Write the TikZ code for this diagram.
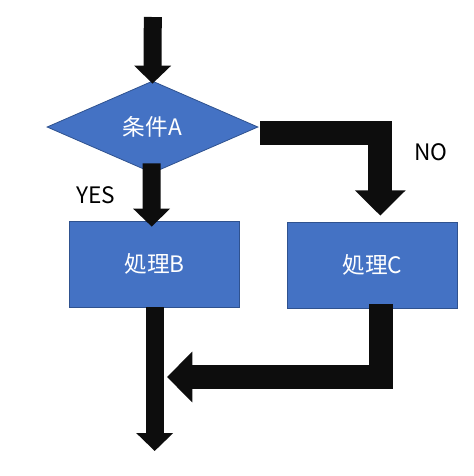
\documentclass[tikz,border=0pt]{standalone}
\usepackage{fontspec}
\setmainfont{Noto Sans CJK JP}
\usetikzlibrary{calc,shapes.geometric,arrows.meta}
\definecolor{boxblue}{HTML}{4472C4}
\definecolor{boxedge}{HTML}{2F528F}
\definecolor{flowblack}{HTML}{0D0D0D}
\newcommand{\Px}{0.75pt}
\tikzset{Box/.style={
    rectangle,
    inner sep=0pt,
    minimum width=170*\Px,
    minimum height=86*\Px,
    draw=boxedge,
    line width=0.6pt,
    fill=boxblue,
    text=white,
    align=center,
    }
}

\begin{document}
\begin{tikzpicture}[x=\Px, y=-\Px,
    font=\fontsize{17}{20}\selectfont,
    Decision/.style={diamond, inner sep=0pt,
    minimum width=211*\Px, minimum height=92*\Px,
    draw=boxedge, line width=0.6pt, fill=boxblue, text=white},
    Flow/.style={draw=flowblack, line width=13.5pt, line join=miter,
    -{Triangle[width=27pt, length=13.5pt]}},
    BigFlow/.style={draw=flowblack, line width=18pt, line join=miter,
    -{Triangle[width=37pt, length=19pt]}},
]
\useasboundingbox (0,0) rectangle (474,476);
% shapes
\node [Decision] (cond) at (152.5,127) {条件A};
\node [Box] (procB) at (154.7,264) {処理B};
\node [Box] (procC) at (372.3,265) {処理C};
\coordinate (in) at (152.8,17);
\coordinate (out) at (154.7,451);
\coordinate (merge) at (167,377);
% arrows
\draw [Flow] (in) -- ([shift={(0,3)}]cond.north);
\draw [Flow] ([shift={(-1,-10)}]cond.south) -- ([shift={(-3,6)}]procB.north);
\draw [BigFlow] ([shift={(2,6)}]cond.east) -| ([shift={(8,-6)}]procC.north);
\draw [Flow] (procB.south) -- (out);
\draw [BigFlow] ([shift={(9,-4)}]procC.south) |- (merge);
% labels
\node (yes) at (96,195) {YES};
\node (no) at (431,152) {NO};
\end{tikzpicture}
\end{document}
